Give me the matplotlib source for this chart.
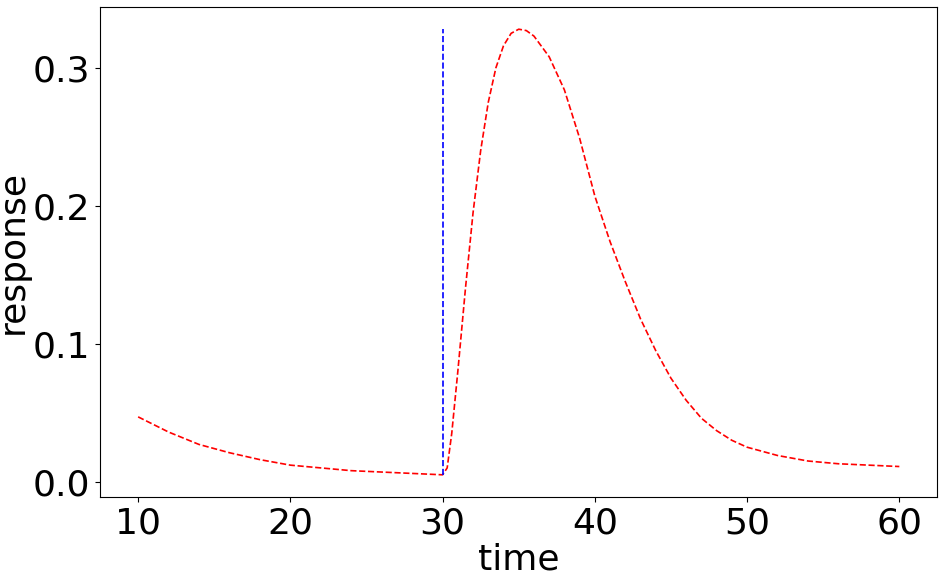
import numpy as np
import matplotlib.pyplot as plt

# values
time = [10, 12, 14, 16, 18, 20, 22, 24, 26, 28, 30, 30.3, 30.6, 31, 31.5, 32, 32.5, 33,
        33.5, 34, 34.5, 35, 35.5, 36, 37, 38, 39, 40, 41, 42, 43, 44, 45, 46, 47, 48,
        49, 50, 52, 54, 56, 58, 60]
response = [0.047, 0.036, 0.027, 0.021, 0.016, 0.012, 0.010, 0.008, 0.007, 0.006, 0.005,
            0.010, 0.035, 0.080, 0.140, 0.195, 0.240, 0.275, 0.300, 0.316, 0.325, 0.328,
            0.327, 0.323, 0.308, 0.284, 0.249, 0.207, 0.174, 0.145, 0.118, 0.095, 0.075,
            0.059, 0.046, 0.037, 0.030, 0.025, 0.019, 0.015, 0.013, 0.012, 0.011]
stim_time = 30
stim_range = [0.005, 0.328]

plt.rcParams['font.size'] = 26
fig = plt.figure(figsize=(9.44, 5.76), dpi=100)
ax = fig.add_axes([0.106, 0.137, 0.887, 0.851])
ax.plot(time, response, 'r--', lw=1.2)
ax.vlines(stim_time, stim_range[0], stim_range[1], colors='b', linestyles='--', lw=1.2)
ax.set_xlabel('time', labelpad=1)
ax.set_ylabel('response', labelpad=2)
ax.set_xticks([10, 20, 30, 40, 50, 60])
ax.set_yticks([0.0, 0.1, 0.2, 0.3])
fig.savefig('out.png', dpi=100)
